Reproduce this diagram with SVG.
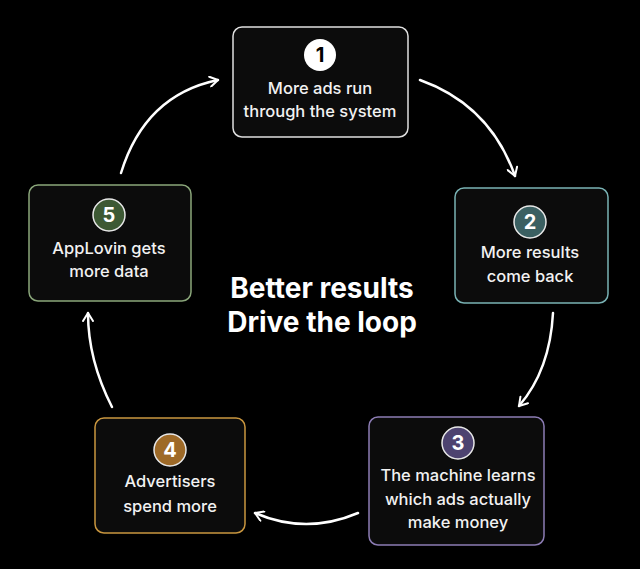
<svg xmlns="http://www.w3.org/2000/svg" width="640" height="569" viewBox="0 0 640 569">
<defs>
<marker id="ah" viewBox="0 0 12 12" refX="10" refY="6" markerWidth="12" markerHeight="12" markerUnits="userSpaceOnUse" orient="auto">
<path d="M2,1 L10,6 L2,11" fill="none" stroke="#ffffff" stroke-width="2" stroke-linecap="round" stroke-linejoin="round"/>
</marker>
</defs>
<style>
.box{fill:#0c0c0c;stroke-width:1.5}
.t{font-family:Inter,"Open Sans","Liberation Sans",sans-serif;font-size:16.5px;font-weight:500;fill:#f2f2f2;text-anchor:middle}
.n{font-family:Inter,"Open Sans","Liberation Sans",sans-serif;font-size:20px;font-weight:700;fill:#ffffff;text-anchor:middle}
.c{stroke:#e8e8e8;stroke-width:1.5}
.con{fill:none;stroke:#ffffff;stroke-width:2.5;stroke-linecap:round;marker-end:url(#ah)}
.title{font-family:Inter,"Open Sans","Liberation Sans",sans-serif;font-size:28px;font-weight:700;fill:#ffffff;text-anchor:middle}
</style>
<rect width="640" height="569" fill="#000000"/>
<g id="connectors">
<path class="con" d="M121,173 Q145,95 218,80"/>
<path class="con" d="M420,80 Q490,105 515,176"/>
<path class="con" d="M553,313 Q550,370 519,406"/>
<path class="con" d="M358,513 Q306,535 255,513"/>
<path class="con" d="M112,407 Q88,360 88,313"/>
</g>
<g id="node1">
<rect class="box" x="233" y="27" width="175" height="110" rx="9" stroke="#e0e0e0"/>
<circle cx="320" cy="55" r="16" fill="#ffffff"/>
<text class="n" x="320" y="62" style="fill:#000000">1</text>
<text class="t" x="320" y="94">More ads run</text>
<text class="t" x="320" y="117">through the system</text>
</g>
<g id="node2">
<rect class="box" x="455" y="188" width="153" height="115" rx="9" stroke="#79b2b4"/>
<circle class="c" cx="530" cy="222" r="16" fill="#3b6062"/>
<text class="n" x="530" y="229">2</text>
<text class="t" x="530" y="258">More results</text>
<text class="t" x="530" y="282">come back</text>
</g>
<g id="node3">
<rect class="box" x="369" y="417" width="175" height="128" rx="9" stroke="#8c7cb4"/>
<circle class="c" cx="458" cy="443" r="16" fill="#4d4370"/>
<text class="n" x="458" y="450">3</text>
<text class="t" x="458" y="481">The machine learns</text>
<text class="t" x="458" y="505">which ads actually</text>
<text class="t" x="458" y="528">make money</text>
</g>
<g id="node4">
<rect class="box" x="95" y="418" width="150" height="115" rx="9" stroke="#c9963f"/>
<circle class="c" cx="170" cy="450" r="16" fill="#9e6a28"/>
<text class="n" x="170" y="457">4</text>
<text class="t" x="170" y="487">Advertisers</text>
<text class="t" x="170" y="512">spend more</text>
</g>
<g id="node5">
<rect class="box" x="29" y="185" width="162" height="116" rx="9" stroke="#8aa67a"/>
<circle class="c" cx="109" cy="215" r="16" fill="#3d5934"/>
<text class="n" x="109" y="222">5</text>
<text class="t" x="109" y="254">AppLovin gets</text>
<text class="t" x="109" y="277">more data</text>
</g>
<g id="center">
<text class="title" x="322" y="298">Better results</text>
<text class="title" x="322" y="332">Drive the loop</text>
</g>
</svg>
